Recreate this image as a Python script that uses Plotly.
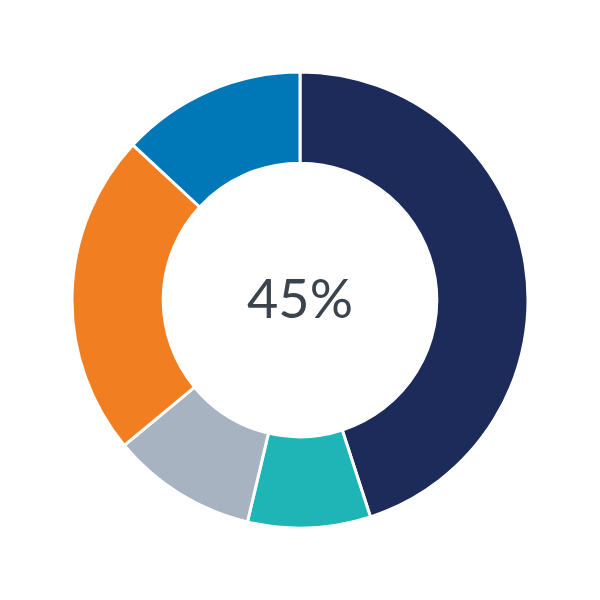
import plotly.graph_objects as go

# slice data, clockwise from the top
labels = ['Navy', 'Teal', 'Gray', 'Orange', 'Blue']
values = [45, 8.7, 10.3, 22.9, 13.1]
colors = ['#1c2b5a', '#1fb5b6', '#a8b3c2', '#f17f22', '#0077b6']
center_text = '45%'

fig = go.Figure()

fig.add_trace(
	go.Pie(
		labels=labels,
		values=values,
		hole=0.6,
		sort=False,
		direction='clockwise',
		rotation=0,
		marker=dict(colors=colors, line=dict(color='white', width=3)),
		textinfo='none',
		hoverinfo='label+percent',
		showlegend=False
	)
)

#Center label
fig.add_annotation(
	text=center_text,
	x=0.5, y=0.5, xref='paper', yref='paper',
	yshift=3,
	showarrow=False,
	font=dict(family='Lato', size=54, color='#3b434c')
)

#page body adds an 8px offset, so shift the domain up/left
fig.update_layout(
	width=600, height=600,
	margin=dict(l=64, r=80, t=64, b=80),
	paper_bgcolor='white',
	plot_bgcolor='white'
)

fig.write_html("out.html")
